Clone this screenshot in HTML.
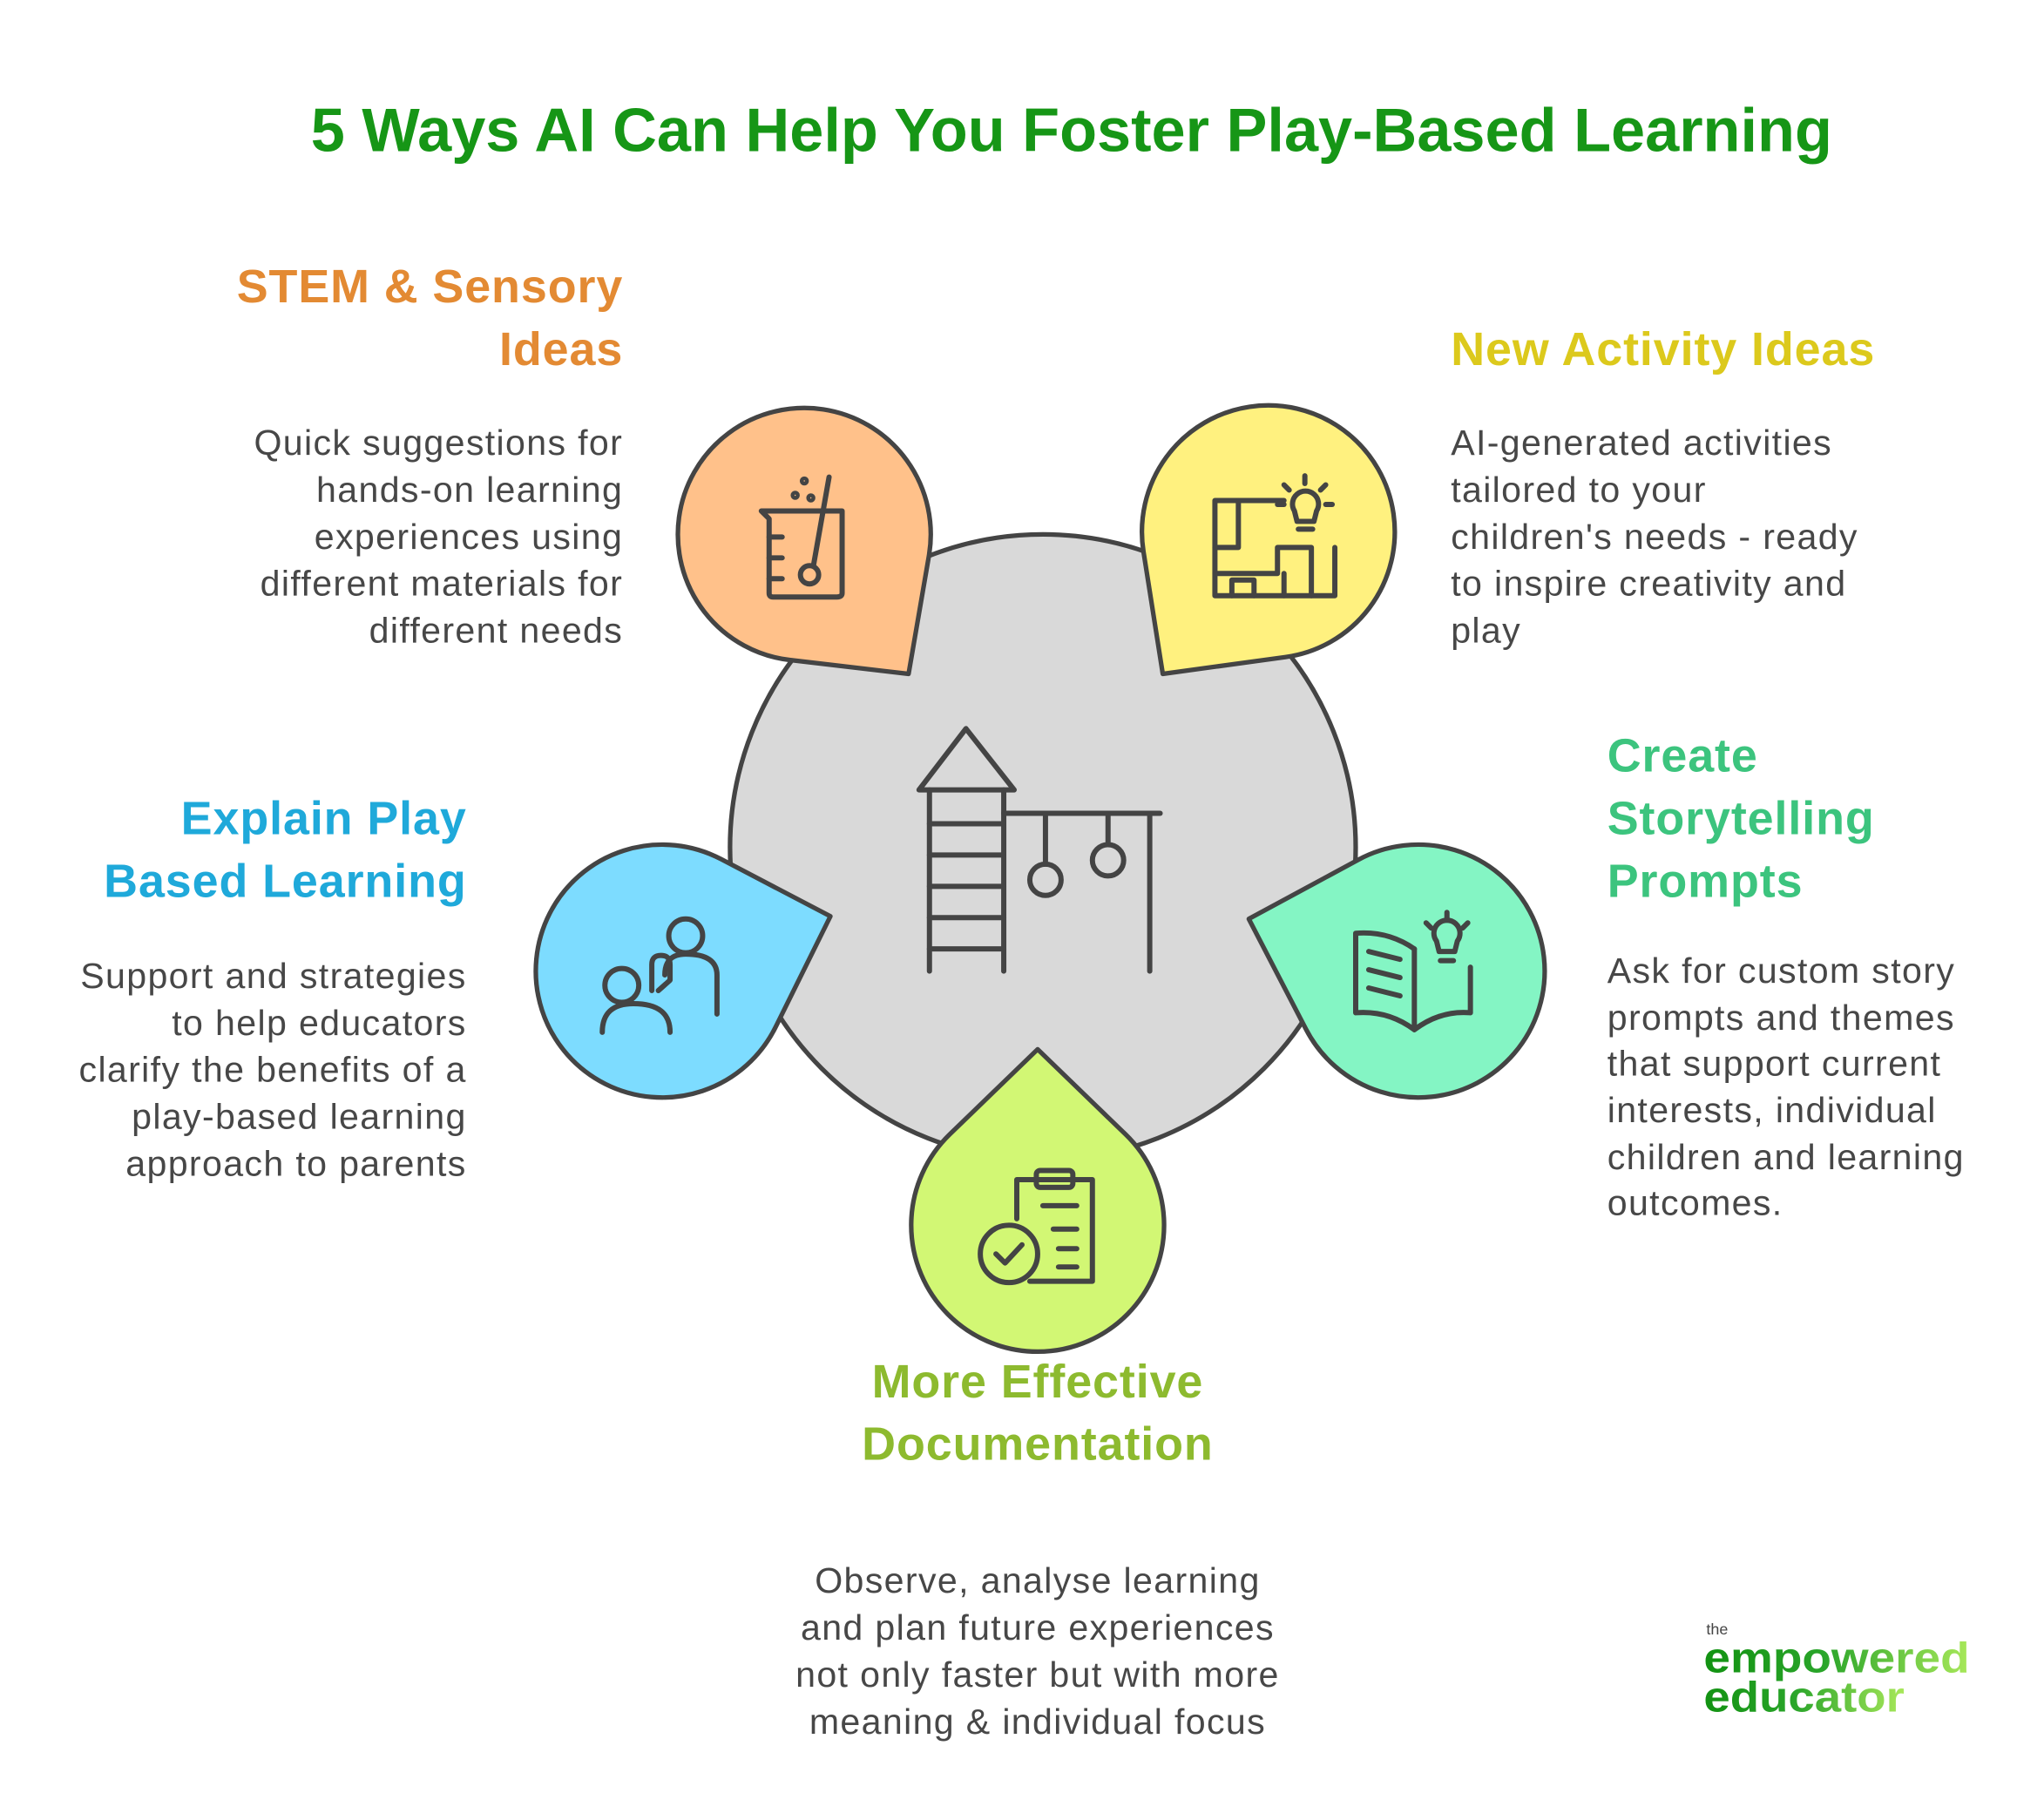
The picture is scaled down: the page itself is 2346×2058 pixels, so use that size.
<!DOCTYPE html>
<html><head><meta charset="utf-8"><style>
html,body{margin:0;padding:0;background:#fff}
svg{display:block}
text{font-family:"Liberation Sans",sans-serif}
.h{font-weight:bold;font-size:36px;letter-spacing:0.6px}
.b{font-size:27.5px;fill:#474747;letter-spacing:0.9px}
.i{fill:none;stroke:#444;stroke-width:4;stroke-linecap:round;stroke-linejoin:round}
</style></head><body>
<svg width="2346" height="2058" viewBox="0 0 1568 1375.6" xmlns="http://www.w3.org/2000/svg">
<defs><linearGradient id="lg" x1="0" x2="1"><stop offset="0" stop-color="#129212"/><stop offset="0.45" stop-color="#2aa52a"/><stop offset="1" stop-color="#a8e85a"/></linearGradient></defs>
<text x="822" y="116" text-anchor="middle" style="font-weight:bold;font-size:47px" fill="#169616">5 Ways AI Can Help You Foster Play-Based Learning</text>
<circle cx="800" cy="650" r="240" fill="#d9d9d9" stroke="#444" stroke-width="3.5"/>
<g id="drops"></g>
<g class="i">
<path d="M705 606 L741 559 L778 606 Z"/>
<line x1="713" y1="606" x2="713" y2="745"/><line x1="770" y1="606" x2="770" y2="745"/>
<line x1="713" y1="632" x2="770" y2="632"/><line x1="713" y1="656" x2="770" y2="656"/><line x1="713" y1="680" x2="770" y2="680"/><line x1="713" y1="704" x2="770" y2="704"/><line x1="713" y1="728" x2="770" y2="728"/>
<line x1="770" y1="624" x2="890" y2="624"/><line x1="882" y1="624" x2="882" y2="745"/>
<line x1="802" y1="624" x2="802" y2="663"/><circle cx="802" cy="675" r="12"/>
<line x1="850" y1="624" x2="850" y2="648"/><circle cx="850" cy="660" r="12"/>
</g>
<g class="i">
<path d="M584 392 L646 392 L646 455 Q646 458 642 458 L593 458 Q590 458 590 455 L590 398 Z"/>
<line x1="590" y1="412" x2="600" y2="412"/><line x1="590" y1="428" x2="600" y2="428"/><line x1="590" y1="444" x2="600" y2="444"/>
<line x1="636" y1="366" x2="624" y2="434"/><circle cx="621" cy="441" r="7"/>
<circle cx="617" cy="369" r="1.5"/><circle cx="610" cy="380" r="1.5"/><circle cx="622" cy="382" r="1.5"/>
</g>
<g class="i">
<path d="M985 384 L932 384 L932 457 L1024 457 L1024 420"/>
<path d="M950 384 L950 420 L932 420"/><path d="M932 440 L980 440 L980 420 L1006 420 L1006 457"/><path d="M945 457 L945 445 L962 445 L962 457"/><path d="M985 440 L985 457"/>
<path d="M993 392 A10 10 0 1 1 1010 392 L1008 400 L995 400 Z"/><line x1="996" y1="406" x2="1007" y2="406"/>
<line x1="1001" y1="365" x2="1001" y2="371"/><line x1="985" y1="372" x2="989" y2="376"/><line x1="1017" y1="372" x2="1013" y2="376"/><line x1="980" y1="387" x2="985" y2="387"/><line x1="1017" y1="387" x2="1022" y2="387"/>
</g>
<g class="i">
<path d="M1085 728 Q1065 714 1040 716 L1040 777 Q1065 775 1085 790 Q1105 775 1128 777 L1128 742"/>
<line x1="1085" y1="728" x2="1085" y2="790"/>
<line x1="1050" y1="730" x2="1074" y2="736"/><line x1="1050" y1="744" x2="1074" y2="750"/><line x1="1050" y1="758" x2="1074" y2="764"/>
<path d="M1102 722 A10 10 0 1 1 1118 722 L1116 730 L1104 730 Z"/><line x1="1105" y1="737" x2="1115" y2="737"/>
<line x1="1110" y1="700" x2="1110" y2="706"/><line x1="1094" y1="708" x2="1098" y2="712"/><line x1="1126" y1="708" x2="1122" y2="712"/>
</g>
<g class="i">
<path d="M780 935 L780 905 L838 905 L838 983 L790 983"/>
<rect x="795" y="898" width="28" height="13" rx="3"/>
<line x1="800" y1="925" x2="826" y2="925"/><line x1="808" y1="943" x2="826" y2="943"/><line x1="812" y1="958" x2="826" y2="958"/><line x1="812" y1="972" x2="826" y2="972"/>
<circle cx="774" cy="962" r="22"/><path d="M764 962 L771 969 L784 955"/>
</g>
<g class="i">
<circle cx="526" cy="718" r="13"/><path d="M510 748 Q510 732 526 732 Q550 732 550 748 L550 778"/>
<path d="M500 760 L500 740 Q500 733 507 733 Q514 733 514 740 L514 752 L505 760"/>
<circle cx="477" cy="756" r="13"/><path d="M462 792 Q462 770 486 770 Q514 770 514 792"/>
</g>
<g class="h" fill="#e38a33" text-anchor="end"><text x="478" y="232">STEM &amp; Sensory</text><text x="478" y="280">Ideas</text></g>
<g class="b" text-anchor="end"><text x="478" y="349">Quick suggestions for</text><text x="478" y="385">hands-on learning</text><text x="478" y="421">experiences using</text><text x="478" y="457">different materials for</text><text x="478" y="493">different needs</text></g>
<text class="h" fill="#dcc91c" x="1113" y="280">New Activity Ideas</text>
<g class="b"><text x="1113" y="349">AI-generated activities</text><text x="1113" y="385">tailored to your</text><text x="1113" y="421">children's needs - ready</text><text x="1113" y="457">to inspire creativity and</text><text x="1113" y="493">play</text></g>
<g class="h" fill="#3cc47e"><text x="1233" y="592">Create</text><text x="1233" y="640">Storytelling</text><text x="1233" y="688">Prompts</text></g>
<g class="b"><text x="1233" y="754">Ask for custom story</text><text x="1233" y="790">prompts and themes</text><text x="1233" y="825">that support current</text><text x="1233" y="861">interests, individual</text><text x="1233" y="897">children and learning</text><text x="1233" y="932">outcomes.</text></g>
<g class="h" fill="#1fa9da" text-anchor="end"><text x="358" y="640">Explain Play</text><text x="358" y="688">Based Learning</text></g>
<g class="b" text-anchor="end"><text x="358" y="758">Support and strategies</text><text x="358" y="794">to help educators</text><text x="358" y="830">clarify the benefits of a</text><text x="358" y="866">play-based learning</text><text x="358" y="902">approach to parents</text></g>
<g class="h" fill="#8dba2f" text-anchor="middle"><text x="796" y="1072">More Effective</text><text x="796" y="1120">Documentation</text></g>
<g class="b" text-anchor="middle"><text x="796" y="1222">Observe, analyse learning</text><text x="796" y="1258">and plan future experiences</text><text x="796" y="1294">not only faster but with more</text><text x="796" y="1330">meaning &amp; individual focus</text></g>
<text x="1309" y="1254" font-size="12" fill="#444">the</text>
<g style="font-weight:bold;font-size:33px" fill="url(#lg)"><text x="1307" y="1283" textLength="204" lengthAdjust="spacingAndGlyphs">empowered</text><text x="1307" y="1313" textLength="154" lengthAdjust="spacingAndGlyphs">educator</text></g>
</svg>
<script>
var d=[["#ffc18a",617,410,97,697,517],["#fff17f",973,408,97,892,517],["#84f5c4",1088,745,97,958,705],["#d2f774",796,940,97,796,805],["#7ddcff",508,745,97,637,703]];
var g=document.getElementById("drops"),s="";
d.forEach(function(p){var cx=p[1],cy=p[2],r=p[3],tx=p[4],ty=p[5];
var dx=tx-cx,dy=ty-cy,L=Math.sqrt(dx*dx+dy*dy),th=Math.atan2(dy,dx),a=Math.acos(r/L);
var x1=cx+r*Math.cos(th+a),y1=cy+r*Math.sin(th+a),x2=cx+r*Math.cos(th-a),y2=cy+r*Math.sin(th-a);
s+='<path d="M'+tx+' '+ty+' L'+x1+' '+y1+' A'+r+' '+r+' 0 1 1 '+x2+' '+y2+' Z" fill="'+p[0]+'" stroke="#444" stroke-width="3.5" stroke-linejoin="round"/>';});
g.innerHTML=s;
</script>
</body></html>
